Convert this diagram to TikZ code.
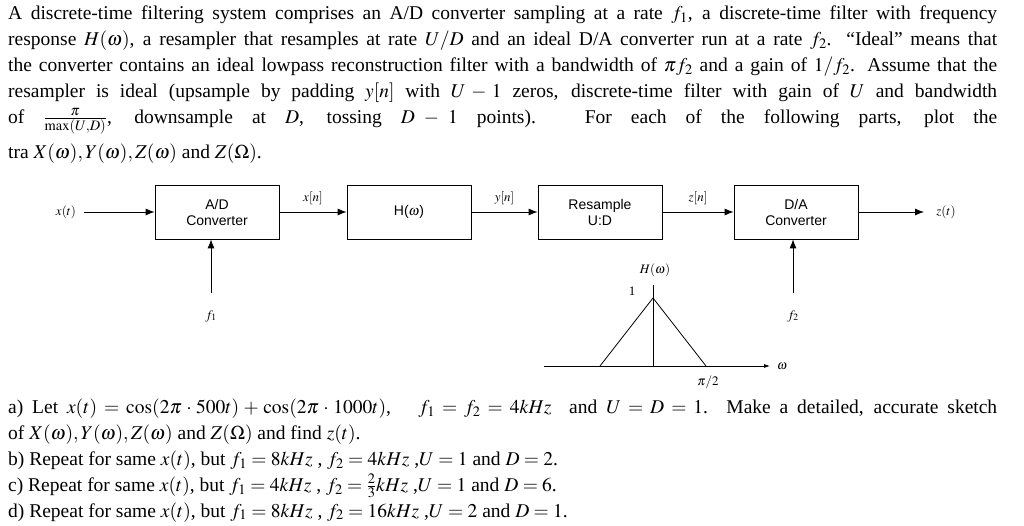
\documentclass[tikz,border=0pt]{standalone}
\usepackage{mathptmx}
\usepackage{fontspec}
\setmainfont{Liberation Serif}
\newfontfamily\blockfont{Liberation Sans}
\usetikzlibrary{arrows.meta}
\tikzset{
  block/.style={rectangle, draw=black, thick, minimum width=124pt, minimum height=54pt, inner sep=0pt, align=center, font=\blockfont\fontsize{14}{16}\selectfont},
  sig/.style={draw, thick, -{Latex[length=9pt,width=7pt]}},
  lbl/.style={font=\fontsize{13}{15}\selectfont},
  para/.style={anchor=north west, text width=989pt, align=justify, inner sep=0pt, font=\fontsize{19.5}{25.8}\selectfont}
}
\begin{document}
\begin{tikzpicture}[x=1pt, y=-1pt]
\useasboundingbox (0,0) rectangle (1024,526);

% problem statement
\node[para] (top) at (8,6) {A discrete-time filtering system comprises an A/D converter sampling at a rate $f_1$, a discrete-time filter with frequency\linebreak
response $H(\omega)$, a resampler that resamples at rate $U/D$ and an ideal D/A converter run at a rate $f_2$. ``Ideal'' means that\linebreak
the converter contains an ideal lowpass reconstruction filter with a bandwidth of $\pi f_2$ and a gain of $1/f_2$. Assume that the\linebreak
resampler is ideal (upsample by padding $y[n]$ with $U-1$ zeros, discrete-time filter with gain of $U$ and bandwidth\linebreak
of $\frac{\pi}{\max(U,D)}$, downsample at $D$, tossing $D-1$ points). For each of the following parts, plot the\linebreak
\rule{0pt}{24pt}tra $X(\omega), Y(\omega), Z(\omega)$ and $Z(\Omega)$.};

% blocks
\node[block] (ad)  at (217,212) {A/D\\Converter};
\node[block] (hw)  at (409,212) {H($\omega$)};
\node[block] (rs)  at (600,212) {Resample\\U:D};
\node[block] (da)  at (796,212) {D/A\\Converter};

\node[lbl] (xt) at (66,212) {$x(t)$};
\node[lbl] (zt) at (946,212) {$z(t)$};
\coordinate (xin) at (84,212);
\coordinate (zout) at (924,212);

\draw[sig] (xin) -- (ad);
\draw[sig] (ad) -- node[lbl, above=4pt] {$x[n]$} (hw);
\draw[sig] (hw) -- node[lbl, above=4pt] {$y[n]$} (rs);
\draw[sig] (rs) -- node[lbl, above=4pt] {$z[n]$} (da);
\draw[sig] (da) -- (zout);

% clock inputs
\coordinate (f1b) at (211,293);
\coordinate (f2b) at (793,293);
\node[lbl] (f1) at (211,316) {$f_1$};
\node[lbl] (f2) at (793,316) {$f_2$};
\draw[sig] (f1b) -- (ad.south -| f1b);
\draw[sig] (f2b) -- (da.south -| f2b);

% resampler filter response
\coordinate (axl) at (544,366);
\coordinate (axr) at (770,366);
\coordinate (vb) at (653,366);
\coordinate (vt) at (653,285);
\coordinate (pk) at (653,298);
\coordinate (bl) at (600,366);
\coordinate (br) at (706,366);
\draw[thick, -{Latex[length=6pt,width=4pt]}] (axl) -- (axr);
\draw[thick] (vb) -- (vt);
\draw[thick] (bl) -- (pk) -- (br);
\node[lbl] (om) at (782,366) {$\omega$};
\node[lbl] (hl) at (655,270) {$H(\omega)$};
\node[lbl] (one) at (632,291) {1};
\node[lbl] (pi2) at (708,382) {$\pi/2$};

% parts
\node[para] (parts) at (8,399) {a) Let $x(t)=\cos(2\pi\cdot 500t)+\cos(2\pi\cdot 1000t)$, \ \ $f_1=f_2=4kHz$ \ and $U=D=1$. Make a detailed, accurate sketch\linebreak
of $X(\omega), Y(\omega), Z(\omega)$ and $Z(\Omega)$ and find $z(t)$.\hfill\null\\
b) Repeat for same $x(t)$, but $f_1=8kHz$ , $f_2=4kHz$ ,$U=1$ and $D=2$.\hfill\null\\
c) Repeat for same $x(t)$, but $f_1=4kHz$ , $f_2=\frac{2}{3}kHz$ ,$U=1$ and $D=6$.\hfill\null\\
d) Repeat for same $x(t)$, but $f_1=8kHz$ , $f_2=16kHz$ ,$U=2$ and $D=1$.\hfill\null};
\end{tikzpicture}
\end{document}
